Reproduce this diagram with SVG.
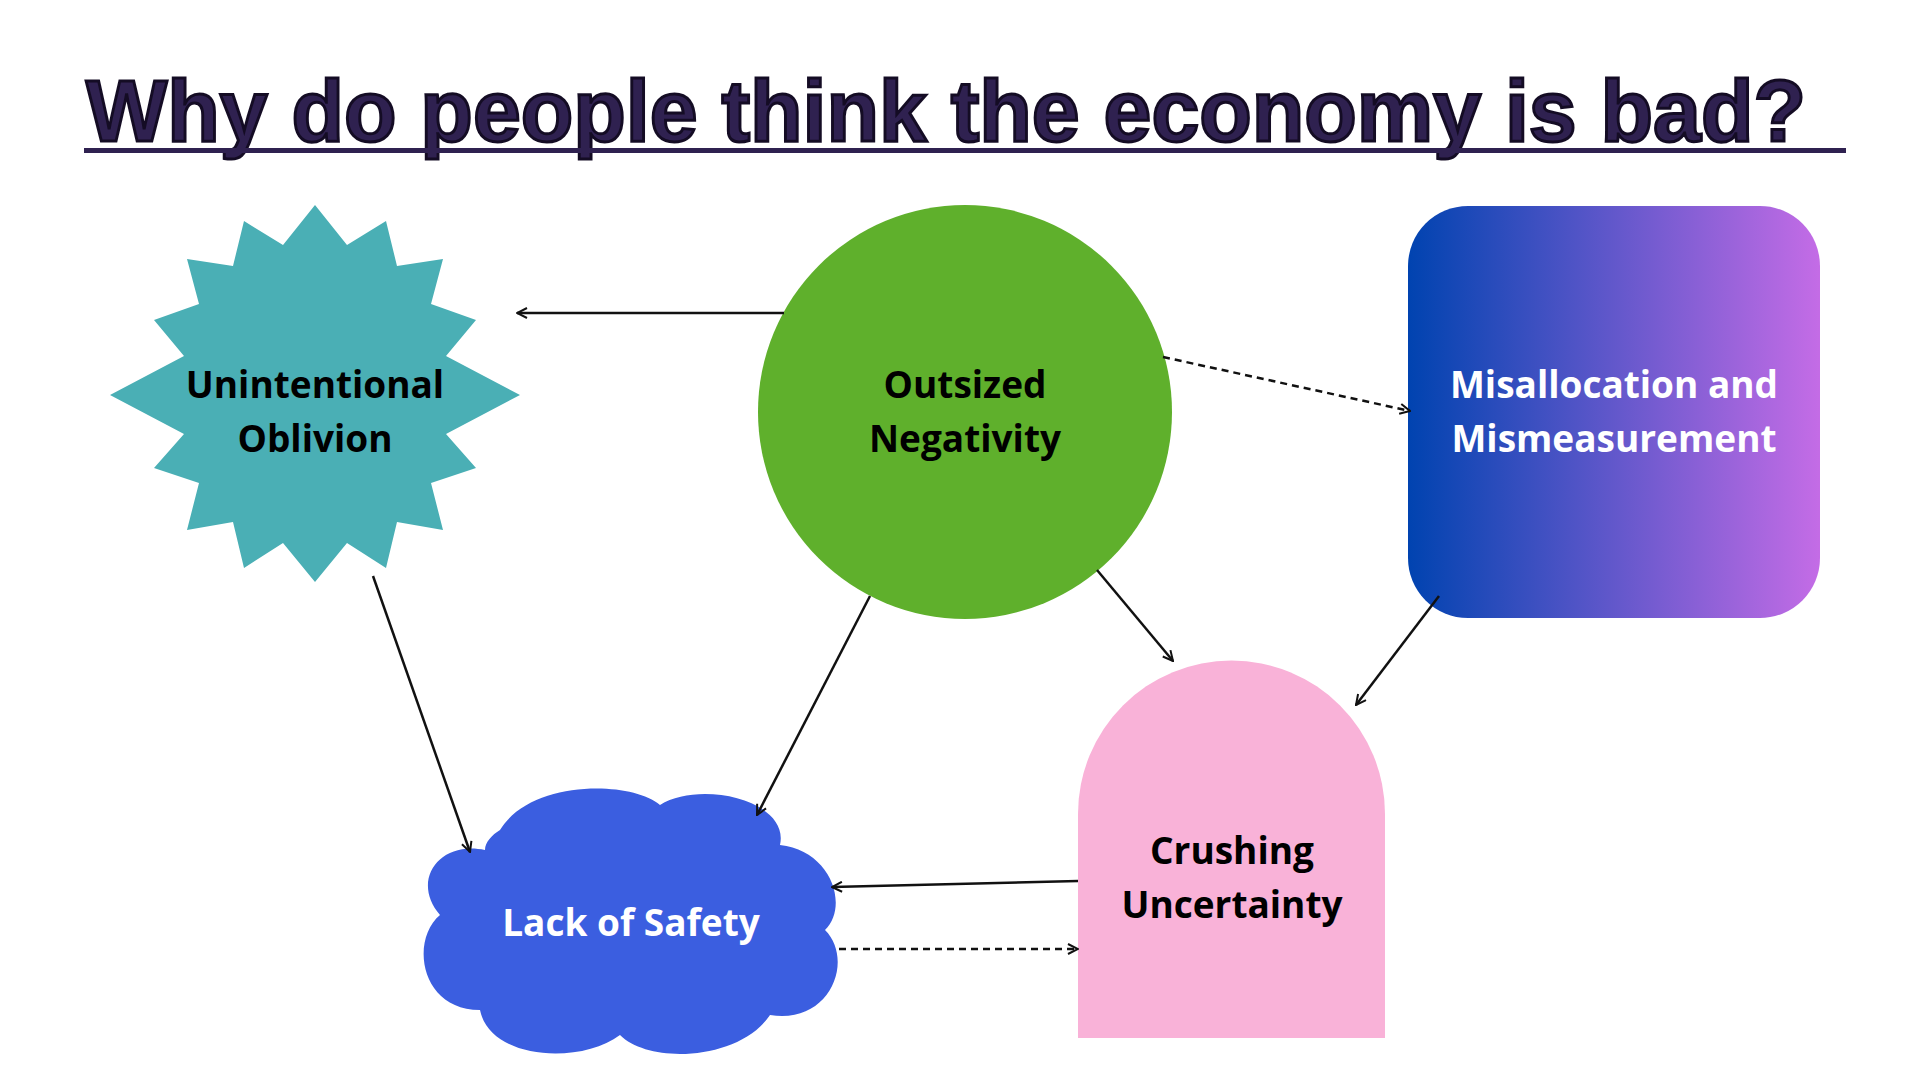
<svg xmlns="http://www.w3.org/2000/svg" width="1920" height="1080" viewBox="0 0 1920 1080">
<style>
.lbl{font-family:"Open Sans","Noto Sans",sans-serif;font-weight:700;font-size:37px;text-anchor:middle}
.c{stroke:#111;stroke-width:2.5;fill:none;marker-end:url(#ah)}
.d{stroke-dasharray:7 5}
</style>
<defs>
<marker id="ah" viewBox="0 0 12 12" refX="11" refY="6" markerWidth="12" markerHeight="12" markerUnits="userSpaceOnUse" orient="auto">
<path d="M1,1 L11,6 L1,11" fill="none" stroke="#111" stroke-width="2"/>
</marker>
<linearGradient id="g" x1="0" x2="1" y1="0" y2="0">
<stop offset="0" stop-color="#0043b0"/><stop offset="1" stop-color="#c46ce6"/>
</linearGradient>
</defs>
<rect width="1920" height="1080" fill="#fff"/>
<g id="title">
<text x="86" y="141" textLength="1720" lengthAdjust="spacingAndGlyphs" font-family="Liberation Sans,sans-serif" font-weight="700" font-size="88" fill="#2f2150" stroke="#140c24" stroke-width="3">Why do people think the economy is bad?</text>
<rect x="84" y="148" width="1762" height="5" fill="#2f2150"/>
</g>
<g id="oblivion">
<polygon fill="#4aafb5" points="315,205 347,245 386,221 397,266 443,259 431,304 476,320 446,356 520,395 446,434 476,468 431,483 443,530 397,522 386,568 347,543 315,582 283,543 244,568 233,522 187,530 199,483 154,468 184,434 110,395 184,356 154,320 199,304 187,259 233,266 244,221 283,245"/>
<text class="lbl" x="315" y="398">Unintentional</text>
<text class="lbl" x="315" y="452">Oblivion</text>
</g>
<g id="negativity">
<circle cx="965" cy="412" r="207" fill="#5fb02c"/>
<text class="lbl" x="965" y="398">Outsized</text>
<text class="lbl" x="965" y="452">Negativity</text>
</g>
<g id="misallocation">
<rect x="1408" y="206" width="412" height="412" rx="60" fill="url(#g)"/>
<text class="lbl" x="1614" y="398" fill="#fff">Misallocation and</text>
<text class="lbl" x="1614" y="452" fill="#fff">Mismeasurement</text>
</g>
<g id="uncertainty">
<path d="M1078,1038 V814 A153,153 0 0 1 1385,814 V1038 Z" fill="#f9b2d8"/>
<text class="lbl" x="1232" y="864">Crushing</text>
<text class="lbl" x="1232" y="918">Uncertainty</text>
</g>
<g id="safety">
<path fill="#3b5ee0" d="M500,830 C530,780 630,780 660,805 C700,780 790,800 780,845 C830,850 850,905 825,930 C855,960 830,1025 770,1015 C740,1060 650,1065 620,1035 C580,1065 490,1060 480,1010 C420,1010 410,940 440,915 C410,880 440,840 485,850 C485,842 492,835 500,830 Z"/>
<text class="lbl" x="631" y="936" fill="#fff">Lack of Safety</text>
</g>
<g id="connectors">
<line class="c" x1="784" y1="313" x2="517" y2="313"/>
<line class="c d" x1="1163" y1="357" x2="1410" y2="411"/>
<line class="c" x1="1097" y1="570" x2="1173" y2="661"/>
<line class="c" x1="1439" y1="596" x2="1356" y2="705"/>
<line class="c" x1="870" y1="596" x2="757" y2="815"/>
<line class="c" x1="373" y1="576" x2="470" y2="852"/>
<line class="c" x1="1078" y1="881" x2="832" y2="887"/>
<line class="c d" x1="839" y1="949" x2="1078" y2="949"/>
</g>
</svg>
